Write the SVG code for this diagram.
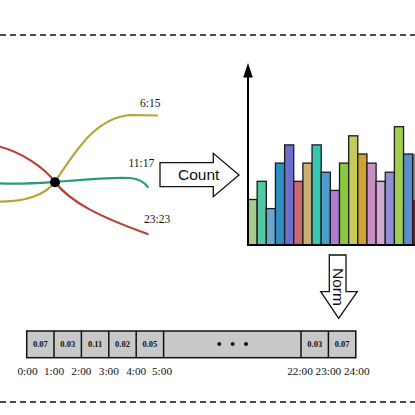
<svg xmlns="http://www.w3.org/2000/svg" width="415" height="415" viewBox="0 0 415 415">
<style>
.dash{stroke:#111;stroke-width:1.3;stroke-dasharray:6 4;fill:none}
.curve{fill:none;stroke-width:2.2;stroke-linecap:round}
.lbl{font-family:"Liberation Serif",serif;font-size:11.5px;fill:#111}
.bar{stroke:#1a1a1a;stroke-width:1.3}
.cell{fill:#c8c8c8;stroke:#111;stroke-width:1.5}
.val{font-family:"Liberation Serif",serif;font-size:8.5px;font-weight:bold;fill:#111;text-anchor:middle}
.time{font-family:"Liberation Serif",serif;font-size:11.3px;fill:#111;text-anchor:middle}
.blk{fill:#fff;stroke:#111;stroke-width:1.3}
.bt{font-family:"Liberation Sans",Arial,sans-serif;font-size:15.5px;fill:#111}
</style>
<rect width="415" height="415" fill="#fff"/>
<line class="dash" x1="0" y1="35" x2="415" y2="35"/>
<line class="dash" x1="0" y1="402" x2="415" y2="402"/>

<g id="curves">
<path class="curve" stroke="#b8403a" d="M0,146.7 C20,152 43,166 55,182 C70,202 100,217 147.7,234"/>
<path class="curve" stroke="#2a9a7a" d="M0,183.3 C20,184.5 40,183 55,182 C80,180 110,177 130,178 C140,179 145,183 147.7,187"/>
<path class="curve" stroke="#b5a535" d="M0,201.5 C25,202 45,195 55,182 C75,152 95,118 130,115 L157,115.5"/>
<circle cx="55" cy="182.3" r="5" fill="#000"/>
<text class="lbl" x="140" y="106.5">6:15</text>
<text class="lbl" x="128.5" y="167">11:17</text>
<text class="lbl" x="144" y="222.5">23:23</text>
</g>

<g id="count">
<path class="blk" d="M160,162.7 H213.3 V153.3 L239,175 L213.3,196.7 V186.7 H160 Z"/>
<text class="bt" x="178" y="179.5">Count</text>
</g>

<g id="histogram">
<rect class="bar" fill="#a9c98c" x="248" y="199.5" width="9.15" height="45.5"/>
<rect class="bar" fill="#52c9a2" x="257.15" y="181.3" width="9.15" height="63.7"/>
<rect class="bar" fill="#6aa7cf" x="266.3" y="208.6" width="9.15" height="36.4"/>
<rect class="bar" fill="#2f8fc2" x="275.45" y="163.1" width="9.15" height="81.9"/>
<rect class="bar" fill="#6c6ecb" x="284.6" y="144.9" width="9.15" height="100.1"/>
<rect class="bar" fill="#cc6670" x="293.75" y="181.3" width="9.15" height="63.7"/>
<rect class="bar" fill="#c9b072" x="302.9" y="163.1" width="9.15" height="81.9"/>
<rect class="bar" fill="#33c8b2" x="312.05" y="144.9" width="9.15" height="100.1"/>
<rect class="bar" fill="#4a9dcc" x="321.2" y="172.2" width="9.15" height="72.8"/>
<rect class="bar" fill="#b07cd2" x="330.35" y="190.4" width="9.15" height="54.6"/>
<rect class="bar" fill="#8bc83f" x="339.5" y="163.1" width="9.15" height="81.9"/>
<rect class="bar" fill="#c6c95a" x="348.65" y="135.8" width="9.15" height="109.2"/>
<rect class="bar" fill="#d1a131" x="357.8" y="154" width="9.15" height="91"/>
<rect class="bar" fill="#c98fc2" x="366.95" y="163.1" width="9.15" height="81.9"/>
<rect class="bar" fill="#d3a9d2" x="376.1" y="181.3" width="9.15" height="63.7"/>
<rect class="bar" fill="#8e91d1" x="385.25" y="172.2" width="9.15" height="72.8"/>
<rect class="bar" fill="#a1cd50" x="394.4" y="126.7" width="9.15" height="118.3"/>
<rect class="bar" fill="#5b8dca" x="403.55" y="154" width="9.15" height="91"/>
<rect fill="#8c8c94" x="412.7" y="154" width="3" height="46"/>
<rect fill="#7a2030" x="412.7" y="200" width="3" height="45"/>
<line x1="412.7" y1="154" x2="412.7" y2="245" stroke="#1a1a1a" stroke-width="1.3"/>
<line x1="248" y1="245" x2="415" y2="245" stroke="#000" stroke-width="2.2"/>
<line x1="248" y1="246" x2="248" y2="75" stroke="#000" stroke-width="2"/>
<path d="M248,63 L252.8,77.5 L243.2,77.5 Z" fill="#000"/>
</g>

<g id="norm">
<path class="blk" d="M329.3,255 H346 V291.7 H357.3 L338.7,318.3 L320.7,291.7 H329.3 Z"/>
<text class="bt" transform="translate(333,268) rotate(90)" x="0" y="0">Norm</text>
</g>

<g id="timeline">
<rect class="cell" x="26.7" y="331" width="329.1" height="26.7"/>
<line x1="54" y1="331" x2="54" y2="357.7" stroke="#111" stroke-width="1.5"/>
<line x1="81.4" y1="331" x2="81.4" y2="357.7" stroke="#111" stroke-width="1.5"/>
<line x1="108.8" y1="331" x2="108.8" y2="357.7" stroke="#111" stroke-width="1.5"/>
<line x1="136.2" y1="331" x2="136.2" y2="357.7" stroke="#111" stroke-width="1.5"/>
<line x1="163.6" y1="331" x2="163.6" y2="357.7" stroke="#111" stroke-width="1.5"/>
<line x1="301" y1="331" x2="301" y2="357.7" stroke="#111" stroke-width="1.5"/>
<line x1="328.4" y1="331" x2="328.4" y2="357.7" stroke="#111" stroke-width="1.5"/>
<text class="val" x="40.4" y="346.5">0.07</text>
<text class="val" x="67.7" y="346.5">0.03</text>
<text class="val" x="95.1" y="346.5">0.11</text>
<text class="val" x="122.5" y="346.5">0.02</text>
<text class="val" x="149.9" y="346.5">0.05</text>
<text class="val" x="314.7" y="346.5">0.03</text>
<text class="val" x="342.1" y="346.5">0.07</text>
<circle cx="219.3" cy="344" r="2" fill="#111"/>
<circle cx="232.7" cy="344" r="2" fill="#111"/>
<circle cx="246" cy="344" r="2" fill="#111"/>
<text class="time" x="27.5" y="375">0:00</text>
<text class="time" x="54" y="375">1:00</text>
<text class="time" x="81.4" y="375">2:00</text>
<text class="time" x="108.8" y="375">3:00</text>
<text class="time" x="136.2" y="375">4:00</text>
<text class="time" x="162" y="375">5:00</text>
<text class="time" x="300" y="375">22:00</text>
<text class="time" x="328.4" y="375">23:00</text>
<text class="time" x="356.8" y="375">24:00</text>
</g>
</svg>
